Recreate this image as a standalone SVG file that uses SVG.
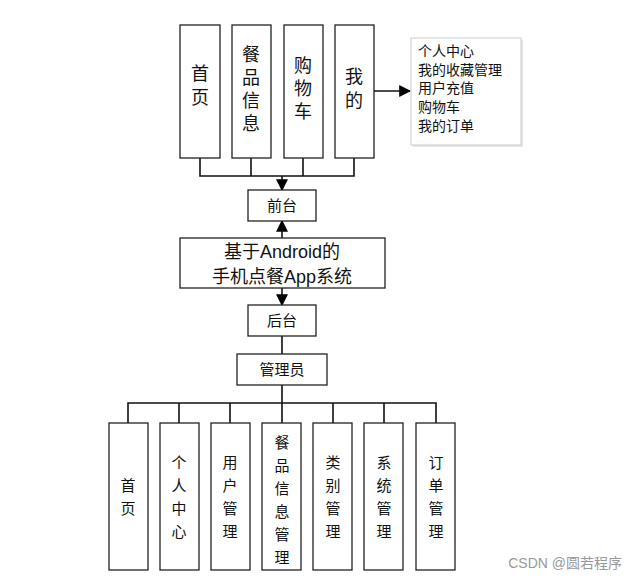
<svg xmlns="http://www.w3.org/2000/svg" width="637" height="582" viewBox="0 0 637 582">
<defs>
<style>
.b{fill:#fff;stroke:#222;stroke-width:1.3}
.l{fill:none;stroke:#111;stroke-width:1.6}
.t{font-family:"Liberation Sans","Noto Sans CJK SC",sans-serif;fill:#111;text-anchor:middle}
.v{font-size:18px}
.s{font-size:15px}
.n{font-family:"Liberation Sans","Noto Sans CJK SC",sans-serif;font-size:14px;fill:#111}
</style>
<marker id="a" viewBox="0 0 10 10" refX="9" refY="5" markerWidth="7" markerHeight="7" orient="auto" markerUnits="userSpaceOnUse"><path d="M0,0L10,5L0,10z" fill="#000"/></marker>
<marker id="m" viewBox="0 0 10 10" refX="9" refY="5" markerWidth="12" markerHeight="12" orient="auto" markerUnits="userSpaceOnUse"><path d="M0,0L10,5L0,10z" fill="#000"/></marker>
</defs>
<rect width="637" height="582" fill="#fff"/>
<g id="connectors">
<path class="l" d="M200,158V176H354V158M251,158V176M303,158V176"/>
<path class="l" d="M282,176V190" marker-end="url(#m)"/>
<path class="l" d="M282,238V221" marker-end="url(#m)"/>
<path class="l" d="M282,288V305" marker-end="url(#m)"/>
<path class="l" d="M374,91H410" marker-end="url(#m)"/>
<path class="l" d="M282,336V354" stroke="#777"/>
<path class="l" d="M282,385V403M128,423V403H436V423M179,403V423M230,403V423M282,403V423M333,403V423M384,403V423"/>
</g>
<g id="n1"><rect class="b" x="180" y="25" width="40" height="133"/><text class="t v" x="200" y="80">首</text><text class="t v" x="200" y="104">页</text></g>
<g id="n2"><rect class="b" x="232" y="25" width="39" height="133"/><text class="t v" x="251" y="61">餐</text><text class="t v" x="251" y="84">品</text><text class="t v" x="251" y="107">信</text><text class="t v" x="251" y="130">息</text></g>
<g id="n3"><rect class="b" x="284" y="25" width="39" height="133"/><text class="t v" x="303" y="72">购</text><text class="t v" x="303" y="95">物</text><text class="t v" x="303" y="118">车</text></g>
<g id="n4"><rect class="b" x="335" y="25" width="39" height="133"/><text class="t v" x="354" y="83">我</text><text class="t v" x="354" y="107">的</text></g>
<g id="note"><rect x="413" y="40" width="110" height="107" fill="#e6e6e6"/><rect x="411" y="38" width="110" height="107" fill="#fff" stroke="#ccc"/>
<text class="n" x="418" y="56">个人中心</text><text class="n" x="418" y="75">我的收藏管理</text><text class="n" x="418" y="93">用户充值</text><text class="n" x="418" y="112" fill="#1a3f9a">购物车</text><text class="n" x="418" y="131">我的订单</text></g>
<g id="qt"><rect class="b" x="248" y="190" width="68" height="31"/><text class="t s" x="282" y="211">前台</text></g>
<g id="sys"><rect class="b" x="180" y="238" width="205" height="50"/><text class="t v" x="282" y="258">基于Android的</text><text class="t v" x="282" y="283">手机点餐App系统</text></g>
<g id="ht"><rect class="b" x="248" y="305" width="68" height="31"/><text class="t s" x="282" y="326">后台</text></g>
<g id="adm"><rect class="b" x="237" y="354" width="90" height="31"/><text class="t s" x="282" y="375">管理员</text></g>
<g id="b1"><rect class="b" x="109" y="423" width="39" height="147"/><text class="t s" x="128" y="491">首</text><text class="t s" x="128" y="514">页</text></g>
<g id="b2"><rect class="b" x="160" y="423" width="39" height="147"/><text class="t s" x="179" y="468">个</text><text class="t s" x="179" y="491">人</text><text class="t s" x="179" y="514">中</text><text class="t s" x="179" y="537">心</text></g>
<g id="b3"><rect class="b" x="211" y="423" width="39" height="147"/><text class="t s" x="230" y="468">用</text><text class="t s" x="230" y="491">户</text><text class="t s" x="230" y="514">管</text><text class="t s" x="230" y="537">理</text></g>
<g id="b4"><rect class="b" x="262" y="423" width="39" height="147"/><text class="t s" x="282" y="448">餐</text><text class="t s" x="282" y="471">品</text><text class="t s" x="282" y="494">信</text><text class="t s" x="282" y="517">息</text><text class="t s" x="282" y="540">管</text><text class="t s" x="282" y="563">理</text></g>
<g id="b5"><rect class="b" x="313" y="423" width="39" height="147"/><text class="t s" x="333" y="468">类</text><text class="t s" x="333" y="491">别</text><text class="t s" x="333" y="514">管</text><text class="t s" x="333" y="537">理</text></g>
<g id="b6"><rect class="b" x="364" y="423" width="39" height="147"/><text class="t s" x="384" y="468">系</text><text class="t s" x="384" y="491">统</text><text class="t s" x="384" y="514">管</text><text class="t s" x="384" y="537">理</text></g>
<g id="b7"><rect class="b" x="416" y="423" width="39" height="147"/><text class="t s" x="436" y="468">订</text><text class="t s" x="436" y="491">单</text><text class="t s" x="436" y="514">管</text><text class="t s" x="436" y="537">理</text></g>
<text x="622" y="568" font-family="Liberation Sans,'Noto Sans CJK SC',sans-serif" font-size="14" fill="#999" text-anchor="end">CSDN @圆若程序</text>
</svg>
